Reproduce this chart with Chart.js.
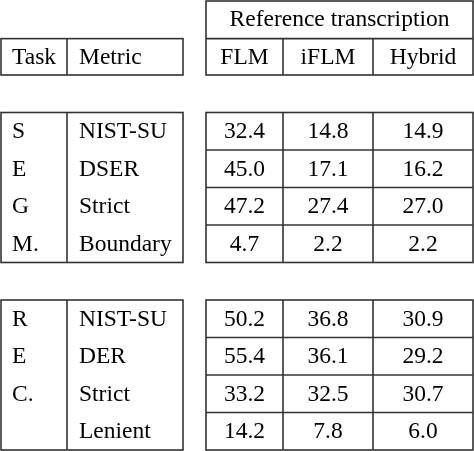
<!DOCTYPE html>
<html><head><meta charset="utf-8">
<script src="https://cdn.jsdelivr.net/npm/chart.js@4"></script>
<style>html,body{margin:0;padding:0;background:#fff}#w{width:474px;height:451px}</style>
</head><body><div id="w"><canvas id="c"></canvas></div>
<script>
const headerTop = "Reference transcription";
const systems = ["FLM", "iFLM", "Hybrid"];
const leftHeaders = ["Task", "Metric"];
const segTask = ["S", "E", "G", "M."];
const segMetric = ["NIST-SU", "DSER", "Strict", "Boundary"];
const segFLM = [32.4, 45.0, 47.2, 4.7];
const segIFLM = [14.8, 17.1, 27.4, 2.2];
const segHybrid = [14.9, 16.2, 27.0, 2.2];
const recTask = ["R", "E", "C.", ""];
const recMetric = ["NIST-SU", "DER", "Strict", "Lenient"];
const recFLM = [50.2, 55.4, 33.2, 14.2];
const recIFLM = [36.8, 36.1, 32.5, 7.8];
const recHybrid = [30.9, 29.2, 30.7, 6.0];

// layout (x in px units, y in row units)
const leftEdges = [1, 67, 183];
const rightEdges = [206, 283, 373, 473];
const segStart = 3, recStart = 8;

const font = '23.5px "Liberation Serif", "Times New Roman", serif';
const groups = [
  {start: segStart, task: segTask, metric: segMetric, vals: [segFLM, segIFLM, segHybrid]},
  {start: recStart, task: recTask, metric: recMetric, vals: [recFLM, recIFLM, recHybrid]}
];
const cellPoints = [];
groups.forEach(g => g.vals.forEach((arr, c) => arr.forEach((v, r) => {
  cellPoints.push({x: (rightEdges[c] + rightEdges[c+1]) / 2, y: g.start + r + 0.5, v: v});
})));

const tablePlugin = {
  id: 'table',
  afterDatasetsDraw(chart) {
    const ctx = chart.ctx, xs = chart.scales.x, ys = chart.scales.y;
    const X = v => xs.getPixelForValue(v), Y = v => ys.getPixelForValue(v);
    ctx.save();
    ctx.strokeStyle = '#333'; ctx.lineWidth = 1.6;
    const line = (x1, y1, x2, y2) => { ctx.beginPath(); ctx.moveTo(x1, y1); ctx.lineTo(x2, y2); ctx.stroke(); };
    const rect = (x1, y1, x2, y2) => ctx.strokeRect(x1, y1, x2 - x1, y2 - y1);
    rect(X(rightEdges[0]), Y(0) + 1, X(rightEdges[3]), Y(2));
    line(X(rightEdges[0]), Y(1.03), X(rightEdges[3]), Y(1.03));
    rect(X(leftEdges[0]), Y(1.03), X(leftEdges[2]), Y(2));
    line(X(leftEdges[1]), Y(1.03), X(leftEdges[1]), Y(2));
    for (let c = 1; c < 3; c++) line(X(rightEdges[c]), Y(1.03), X(rightEdges[c]), Y(2));
    ctx.fillStyle = '#000'; ctx.font = font; ctx.textBaseline = 'middle';
    ctx.textAlign = 'center';
    ctx.fillText(headerTop, X((rightEdges[0] + rightEdges[3]) / 2), Y(0.52));
    systems.forEach((s, c) => ctx.fillText(s, X((rightEdges[c] + rightEdges[c+1]) / 2), Y(1.55)));
    ctx.textAlign = 'left';
    ctx.fillText(leftHeaders[0], X(leftEdges[0] + 11), Y(1.55));
    ctx.fillText(leftHeaders[1], X(leftEdges[1] + 12), Y(1.55));
    groups.forEach(g => {
      const t = Y(g.start), b = Y(g.start + 4);
      rect(X(leftEdges[0]), t, X(leftEdges[2]), b);
      line(X(leftEdges[1]), t, X(leftEdges[1]), b);
      rect(X(rightEdges[0]), t, X(rightEdges[3]), b);
      for (let c = 1; c < 3; c++) line(X(rightEdges[c]), t, X(rightEdges[c]), b);
      for (let r = 1; r < 4; r++) line(X(rightEdges[0]), Y(g.start + r), X(rightEdges[3]), Y(g.start + r));
      ctx.textAlign = 'left';
      g.task.forEach((s, r) => ctx.fillText(s, X(leftEdges[0] + 11), Y(g.start + r + 0.52)));
      g.metric.forEach((s, r) => ctx.fillText(s, X(leftEdges[1] + 12), Y(g.start + r + 0.52)));
    });
    ctx.textAlign = 'center';
    chart.getDatasetMeta(0).data.forEach((el, i) => {
      ctx.fillText(cellPoints[i].v.toFixed(1), el.x, el.y + 1);
    });
    ctx.restore();
  }
};

new Chart(document.getElementById('c'), {
  type: 'scatter',
  data: {datasets: [{data: cellPoints, pointRadius: 0, pointHoverRadius: 0}]},
  options: {
    responsive: true, maintainAspectRatio: false, animation: false,
    layout: {padding: 0},
    plugins: {legend: {display: false}, tooltip: {enabled: false}},
    scales: {
      x: {type: 'linear', min: 0, max: 474, display: false},
      y: {type: 'linear', min: 0, max: 451 / 37.5, reverse: true, display: false}
    }
  },
  plugins: [tablePlugin]
});
</script></body></html>
